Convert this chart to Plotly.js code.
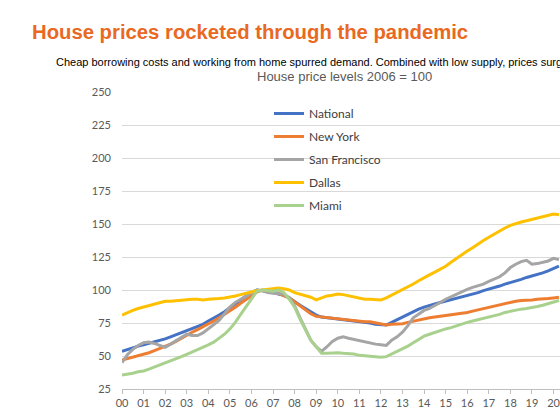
<!DOCTYPE html>
<html>
<head>
<meta charset="utf-8">
<script src="https://cdn.plot.ly/plotly-3.0.1.min.js"></script>
<style>
  html, body { margin: 0; padding: 0; background: #ffffff; overflow: hidden; }
  #chart { width: 560px; height: 420px; }
</style>
</head>
<body>
<div id="chart"></div>
<script>
// Quarterly index readings, 2006 = 100
const years = [
  2000, 2000.25, 2000.5, 2000.75, 2001, 2001.25, 2001.5, 2001.75,
  2002, 2002.25, 2002.5, 2002.75, 2003, 2003.25, 2003.5, 2003.75,
  2004, 2004.25, 2004.5, 2004.75, 2005, 2005.25, 2005.5, 2005.75,
  2006, 2006.25, 2006.5, 2006.75, 2007, 2007.25, 2007.5, 2007.75,
  2008, 2008.25, 2008.5, 2008.75, 2009, 2009.25, 2009.5, 2009.75,
  2010, 2010.25, 2010.5, 2010.75, 2011, 2011.25, 2011.5, 2011.75,
  2012, 2012.25, 2012.5, 2012.75, 2013, 2013.25, 2013.5, 2013.75,
  2014, 2014.25, 2014.5, 2014.75, 2015, 2015.25, 2015.5, 2015.75,
  2016, 2016.25, 2016.5, 2016.75, 2017, 2017.25, 2017.5, 2017.75,
  2018, 2018.25, 2018.5, 2018.75, 2019, 2019.25, 2019.5, 2019.75,
  2020, 2020.25
];

const national = [
  53.5, 55, 56, 57.5, 58.5, 59.5, 61, 62,
  63, 64.5, 66, 67.5, 69, 70.5, 72, 74,
  76.5, 78.5, 81, 83.5, 86.5, 90, 93, 95.5,
  98, 100, 99.5, 99, 98, 97, 96, 94,
  91, 88.5, 86, 83.5, 81, 79.5, 79, 79,
  78.5, 78, 77.5, 77, 76, 75.5, 75, 74,
  73.5, 73.5, 75.5, 77.5, 80, 82, 84, 85.5,
  87, 88.5, 89.5, 90.5, 91.5, 92.5, 93.5, 94.5,
  95.5, 97, 98, 99.5, 100.5, 102, 103, 104.5,
  105.5, 107, 108, 109.5, 110.5, 112, 113, 114.5,
  116.5, 118
];

const newYork = [
  47, 48, 49, 50, 51.5, 52.5, 54, 55.5,
  57, 59, 61, 63.5, 66, 68, 70, 72,
  74.5, 76.5, 79, 81.5, 84, 87, 90, 93,
  96, 98.5, 100, 99.5, 98.5, 97.5, 96, 94,
  91, 88, 85, 82, 80, 79.5, 79, 79,
  78.5, 78, 77.5, 77, 76.5, 76, 76, 75,
  74.5, 73.5, 74, 74, 74.5, 75.5, 76.5, 77.5,
  78.5, 79, 79.5, 80, 80.5, 81, 82, 82.5,
  83, 84, 85, 86, 87, 88, 89, 90,
  91, 91.5, 92, 92, 92.5, 93, 93, 93.5,
  94, 94.5
];

const sanFrancisco = [
  45, 51, 55, 58, 60, 60.5, 59.5, 58,
  56.5, 59, 61.5, 64, 66.5, 65.5, 65.5, 67.5,
  70.5, 73.5, 77, 82, 87, 90.5, 93, 95.5,
  98, 100, 99.5, 98, 97.5, 97, 97, 94,
  88, 79, 70, 62, 57, 53.5, 57, 61,
  63.5, 64.5, 63.5, 62.5, 61.5, 61, 60, 59,
  58.5, 58, 62, 64.5, 68, 73, 79, 82,
  84.5, 86, 88, 90.5, 93, 95, 97, 99,
  100.5, 102, 103, 104.5, 106.5, 108, 110, 113,
  117, 119.5, 121.5, 122.5, 119.5, 120, 121, 122,
  124, 123
];

const dallas = [
  81, 83, 84.5, 86, 87, 88.5, 89.5, 90.5,
  91.5, 91.5, 92, 92.5, 93, 93, 93, 92.5,
  93, 93, 93.5, 94, 94.5, 95.5, 96.5, 97.5,
  99, 99.5, 100, 100.5, 101, 101.5, 101, 100,
  98, 97, 96, 94.5, 92.5, 94, 95.5, 96,
  97, 96.5, 95.5, 94.5, 93.5, 93, 93, 92.5,
  92.5, 94, 96, 98, 100, 102, 104.5, 107,
  109.5, 111.5, 113.5, 115.5, 118, 121, 124, 127,
  129.5, 132, 135, 137.5, 140, 142.5, 144.5, 147,
  149, 150.5, 151.5, 152.5, 153.5, 154.5, 155, 156,
  157.5, 157
];

const miami = [
  35.5, 36, 37, 38, 38.7, 40, 41.5, 43,
  44.5, 46, 47.5, 49.5, 51.3, 53, 54.5, 56.5,
  58.4, 60.5, 63.5, 66.5, 70.5, 75.5, 81.5, 87.5,
  94, 99, 100, 99.5, 99, 100, 98, 93,
  87, 78, 70, 62, 57, 52, 52, 52.5,
  52.5, 52, 52, 51.5, 50.5, 50, 49.5, 49.5,
  49, 49.5, 51.5, 53, 55, 57.5, 60, 62.5,
  65, 66.5, 68, 69.5, 70.5, 71.5, 73, 74.5,
  75.5, 76.5, 77.5, 78, 79, 80.5, 81.5, 83,
  84, 85, 85.5, 86, 86.5, 87.5, 88.5, 89.5,
  90.5, 92
];

const tickYears = [2000, 2001, 2002, 2003, 2004, 2005, 2006, 2007, 2008, 2009, 2010,
                   2011, 2012, 2013, 2014, 2015, 2016, 2017, 2018, 2019, 2020];
const tickLabels = ['00', '01', '02', '03', '04', '05', '06', '07', '08', '09', '10',
                    '11', '12', '13', '14', '15', '16', '17', '18', '19', '20'];

const seriesNames = ['National', 'New York', 'San Francisco', 'Dallas', 'Miami'];
const seriesValues = [national, newYork, sanFrancisco, dallas, miami];
const seriesColors = ['#4472C4', '#ED7D31', '#A5A5A5', '#FFC000', '#A9D18E'];

const traces = seriesNames.map((name, i) => ({
  type: 'scatter',
  mode: 'lines',
  name: name,
  legendgroup: 'g' + i,
  x: years,
  y: seriesValues[i],
  line: { color: seriesColors[i], width: 3 },
  hoverinfo: 'skip'
}));

const layout = {
  width: 560,
  height: 420,
  paper_bgcolor: '#ffffff',
  plot_bgcolor: '#ffffff',
  margin: { l: 122, r: 0, t: 92, b: 31, pad: 0 },
  font: { family: 'Lato, sans-serif', color: '#595959' },
  title: {
    text: '<b>House prices rocketed through the pandemic</b>',
    font: { family: '"Liberation Sans", Arial, sans-serif', size: 20.3, color: '#E8691F' },
    xref: 'container', yref: 'container',
    x: 32 / 560, xanchor: 'left',
    y: 1 - 32 / 420, yanchor: 'middle'
  },
  xaxis: {
    range: [2000, 2020.3],
    tickvals: tickYears,
    ticktext: tickLabels,
    ticklabeloverflow: 'allow',
    showgrid: false,
    zeroline: false,
    showline: true,
    linecolor: '#BFBFBF',
    linewidth: 1,
    ticks: 'outside',
    ticklen: 4,
    tickcolor: '#BFBFBF',
    tickfont: { family: 'Lato, sans-serif', size: 11, color: '#595959' },
    fixedrange: true
  },
  yaxis: {
    range: [25, 250],
    tickvals: [25, 50, 75, 100, 125, 150, 175, 200, 225, 250],
    showgrid: true,
    gridcolor: '#D9D9D9',
    gridwidth: 1,
    zeroline: false,
    showline: false,
    ticks: '',
    ticklabelstandoff: 10,
    tickfont: { family: 'Lato, sans-serif', size: 11, color: '#595959' },
    fixedrange: true
  },
  showlegend: true,
  legend: {
    x: (269 - 122) / 438, xanchor: 'left',
    y: (388 - 98) / 297, yanchor: 'top',
    bgcolor: 'rgba(0,0,0,0)',
    borderwidth: 0,
    traceorder: 'grouped',
    tracegroupgap: 4,
    font: { family: 'Lato, sans-serif', size: 12, color: '#404040' }
  },
  annotations: [
    {
      text: 'Cheap borrowing costs and working from home spurred demand. Combined with low supply, prices surged.',
      xref: 'paper', yref: 'paper',
      x: (54 - 122) / 438, xanchor: 'left',
      y: (388 - 61) / 297, yanchor: 'middle',
      showarrow: false,
      font: { family: '"Liberation Sans", Arial, sans-serif', size: 11, color: '#000000' }
    },
    {
      text: 'House price levels 2006 = 100',
      xref: 'paper', yref: 'paper',
      x: (344.5 - 122) / 438, xanchor: 'center',
      y: (388 - 76) / 297, yanchor: 'middle',
      showarrow: false,
      font: { family: '"Liberation Sans", Arial, sans-serif', size: 13, color: '#595959' }
    }
  ]
};

Plotly.newPlot('chart', traces, layout, { staticPlot: true, displayModeBar: false });
</script>
</body>
</html>
